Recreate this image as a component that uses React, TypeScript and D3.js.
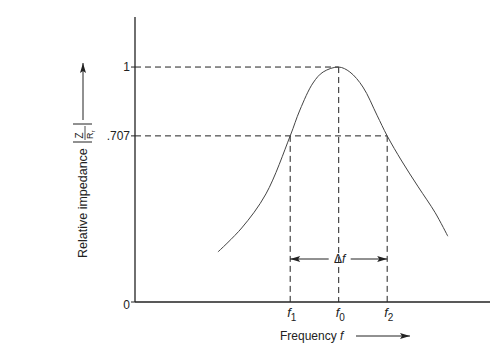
import { useMemo } from "react";
import * as d3 from "d3";

// curve: frequency (f1 = 4, f0 = 5, f2 = 6) vs |Z|/R
const freq = [2.51, 3.0, 3.5, 4.0, 4.2, 4.47, 4.68, 5.0, 5.23, 5.5, 5.79, 6.0, 6.3, 6.64, 6.99, 7.25];
const impedance = [0.213, 0.315, 0.46, 0.707, 0.817, 0.932, 0.979, 1.0, 0.979, 0.915, 0.795, 0.707, 0.6, 0.49, 0.38, 0.28];

const yTicks = [0, 0.707, 1];
const yTickLabels = ["0", ".707", "1"];

const xMarks = [4, 5, 6];
const xMarkSubs = ["1", "0", "2"];

const W = 502;
const H = 352;
const FONT = "'Liberation Sans', Arial, sans-serif";
const INK = "#222";

export default function App() {
  const x = useMemo(() => d3.scaleLinear().domain([0.8, 8.12]).range([135, 490]), []);
  const y = useMemo(() => d3.scaleLinear().domain([0, 1.213]).range([302, 17]), []);

  const pts = freq.map((f, i) => [f, impedance[i]] as [number, number]);
  const line = d3
    .line<[number, number]>()
    .x((d) => x(d[0]))
    .y((d) => y(d[1]))
    .curve(d3.curveCatmullRom.alpha(0.5));

  const f1 = x(xMarks[0]);
  const f0 = x(xMarks[1]);
  const f2 = x(xMarks[2]);
  const x0 = x(0.8);
  const y0 = y(0);
  const yPeak = y(1);
  const yHalf = y(0.707);
  const dash = "6,4";

  const arrowY = y(0.2);
  const labelX = 83;

  return (
    <svg
      width={W}
      height={H}
      style={{ position: "absolute", left: 0, top: 0, background: "#fff" }}
      fontFamily={FONT}
    >
      <defs>
        <marker id="ah" viewBox="0 0 10 6" refX="10" refY="3" markerWidth="11" markerHeight="6" orient="auto" markerUnits="userSpaceOnUse">
          <path d="M0,0 L10,3 L0,6 L2,3 Z" fill={INK} />
        </marker>
      </defs>

      {/* guide lines */}
      <g stroke={INK} strokeWidth={1} strokeDasharray={dash} fill="none">
        <line x1={x0} x2={f0} y1={yPeak} y2={yPeak} />
        <line x1={f0} x2={f0} y1={yPeak} y2={y0} />
        <line x1={x0} x2={f2} y1={yHalf} y2={yHalf} />
        <line x1={f1} x2={f1} y1={yHalf} y2={y0} />
        <line x1={f2} x2={f2} y1={yHalf} y2={y0} />
      </g>

      {/* response curve */}
      <path d={line(pts) ?? ""} fill="none" stroke="#444" strokeWidth={1} />

      {/* axes */}
      <g stroke={INK} strokeWidth={1.3}>
        <line x1={x0} x2={x0} y1={y(1.213)} y2={y0} />
        <line x1={x0} x2={490} y1={y0} y2={y0} />
      </g>

      {/* y ticks */}
      {yTicks.map((t, i) => (
        <g key={t}>
          <line x1={x0 - 4} x2={x0} y1={y(t)} y2={y(t)} stroke={INK} strokeWidth={1} />
          <text
            x={x0 - 5}
            y={y(t) + (t === 0 ? 7 : 4)}
            textAnchor="end"
            fontSize={12}
            fill={INK}
          >
            {yTickLabels[i]}
          </text>
        </g>
      ))}

      {/* x marks f1 f0 f2 */}
      {xMarks.map((m, i) => (
        <text key={m} x={x(m) - 3} y={y0 + 15} fontSize={13} fill={INK}>
          <tspan fontStyle="italic">f</tspan>
          <tspan fontSize={10} dy={4}>{xMarkSubs[i]}</tspan>
        </text>
      ))}

      {/* delta f arrows */}
      <line x1={f0 - 10} x2={f1} y1={arrowY + 4} y2={arrowY + 4} stroke={INK} strokeWidth={1} markerEnd="url(#ah)" />
      <line x1={f0 + 12} x2={f2} y1={arrowY + 4} y2={arrowY + 4} stroke={INK} strokeWidth={1} markerEnd="url(#ah)" />
      <text x={f0 + 1} y={arrowY + 8} textAnchor="middle" fontSize={12} fill={INK}>
        Δ<tspan fontStyle="italic">f</tspan>
      </text>

      {/* x label */}
      <text x={280} y={340} fontSize={12} fill={INK}>
        Frequency <tspan fontStyle="italic">f</tspan>
      </text>
      <line x1={356} x2={410} y1={336} y2={336} stroke={INK} strokeWidth={1} markerEnd="url(#ah)" />

      {/* y label */}
      <g transform={`translate(${labelX + 4},258) rotate(-90)`} fill={INK}>
        <text x={0} y={0} fontSize={12.5}>Relative impedance</text>
        <g transform="translate(116,0)">
          <line x1={0} x2={0} y1={-14} y2={5} stroke={INK} strokeWidth={1} />
          <text x={3.5} y={-4} fontSize={10}>Z</text>
          <line x1={2} x2={16} y1={-2} y2={-2} stroke={INK} strokeWidth={0.8} />
          <text x={3} y={5.5} fontSize={9}>R<tspan fontSize={6} dy={2}>r</tspan></text>
          <line x1={18} x2={18} y1={-14} y2={5} stroke={INK} strokeWidth={1} />
        </g>
      </g>
      <line x1={labelX} x2={labelX} y1={120} y2={63} stroke={INK} strokeWidth={1} markerEnd="url(#ah)" />
    </svg>
  );
}
